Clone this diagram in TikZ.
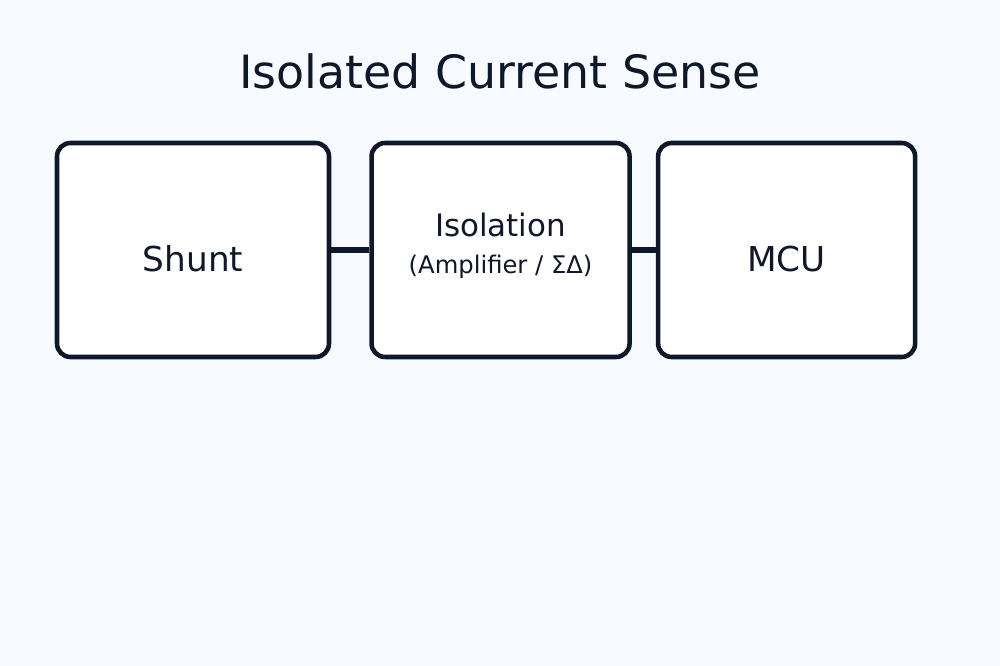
\documentclass[tikz,border=0pt]{standalone}
\usepackage{fontspec}
\setmainfont{DejaVu Sans}
\usepackage{xcolor}
\usetikzlibrary{positioning}
\definecolor{inknavy}{RGB}{15,23,42}
\definecolor{paperblue}{RGB}{247,250,255}
\tikzset{
    senseblock/.style={rectangle, draw=inknavy, fill=white, rounded corners=0.27cm, line width=2.6pt, minimum width=#1, minimum height=4.28cm, inner sep=0pt},
    senselabel/.style={anchor=base, text=inknavy, font=\fontsize{19.5}{23}\selectfont},
    sensetitle/.style={anchor=base, text=inknavy, font=\fontsize{26.1}{31}\selectfont},
    sensewire/.style={draw=inknavy, line width=3.8pt}
}

\begin{document}
\begin{tikzpicture}

\fill[paperblue] (0,0) rectangle (20,-13.32);
\useasboundingbox (0,0) rectangle (20,-13.32);

\node[sensetitle] (title) at (10,-1.78) {Isolated Current Sense};

\node[senseblock=5.44cm] (shunt) at (3.86,-5.0) {};
\node[senseblock=5.16cm, right=0.76cm of shunt] (iso) {};
\node[senseblock=5.14cm, right=0.48cm of iso] (mcu) {};

\node[senselabel] (shuntlbl) at ([yshift=-0.44cm]shunt.center) {Shunt};
\node[senselabel, font=\fontsize{17.6}{21}\selectfont] (isolbl) at ([yshift=0.26cm]iso.center) {Isolation};
\node[senselabel, font=\fontsize{13.8}{17}\selectfont] (isosub) at ([yshift=-0.48cm]iso.center) {(Amplifier / ΣΔ)};
\node[senselabel] (mculbl) at ([yshift=-0.44cm]mcu.center) {MCU};

\draw[sensewire] (shunt.east) -- (iso.west);
\draw[sensewire] (iso.east) -- (mcu.west);

\end{tikzpicture}
\end{document}
